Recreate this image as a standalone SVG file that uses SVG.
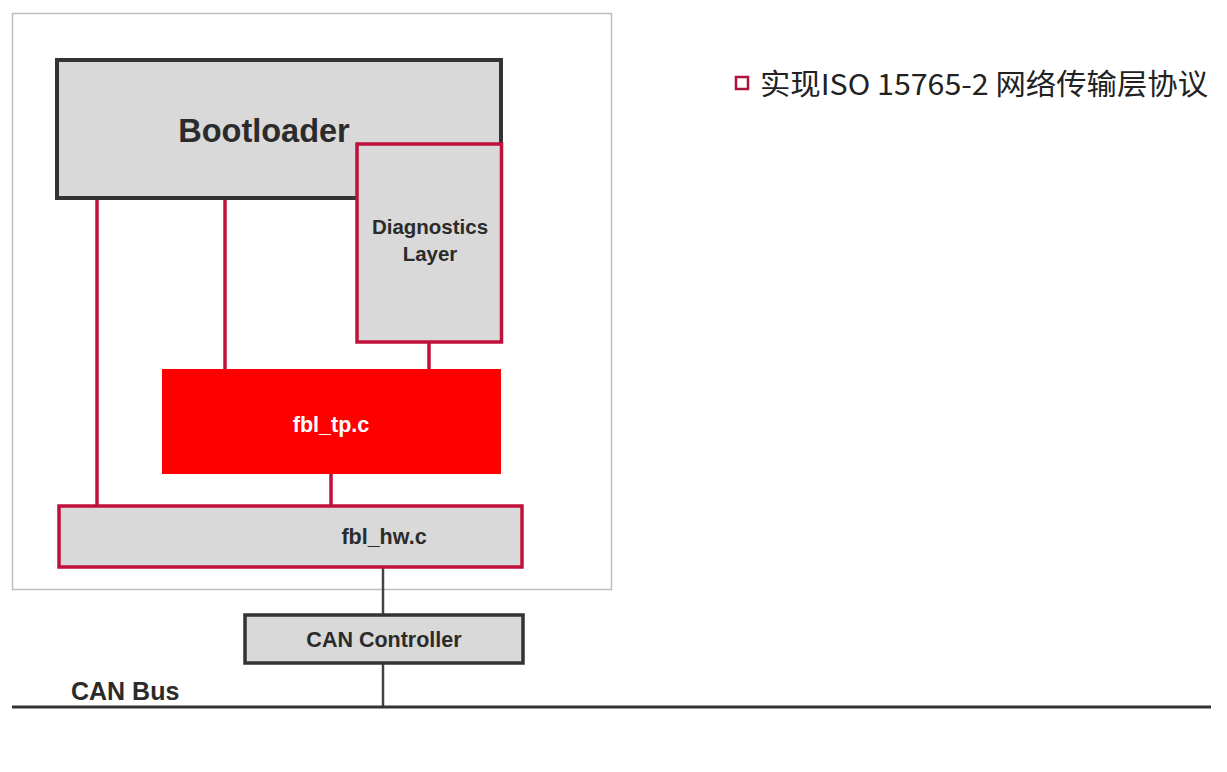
<svg xmlns="http://www.w3.org/2000/svg" width="1227" height="772" viewBox="0 0 1227 772">
<style>
.box{fill:#d9d9d9}
.dark{stroke:#333;stroke-width:4}
.crim{stroke:#c0103c;stroke-width:3.5}
.t{font-family:"Liberation Sans",Arial,sans-serif;font-weight:bold;fill:#2b2b2b;text-anchor:middle}
.cl{stroke:#c0103c;stroke-width:3.5;fill:none}
.gl{stroke:#444;stroke-width:2.5;fill:none}
</style>
<rect width="1227" height="772" fill="#fff"/>
<rect id="frame" x="12.5" y="13.5" width="599" height="576" fill="none" stroke="#bdbdbd" stroke-width="1.5"/>
<g id="connectors">
<line class="cl" x1="97" y1="198" x2="97" y2="506"/>
<line class="cl" x1="225" y1="198" x2="225" y2="369"/>
<line class="cl" x1="429" y1="342" x2="429" y2="369"/>
<line class="cl" x1="331" y1="474" x2="331" y2="506"/>
<line class="gl" x1="383" y1="568" x2="383" y2="614"/>
<line class="gl" x1="383" y1="663" x2="383" y2="707"/>
</g>
<g id="bootloader">
<rect class="box dark" x="57" y="60" width="444" height="138"/>
<text class="t" x="264" y="142" font-size="32.5">Bootloader</text>
</g>
<g id="diagnostics">
<rect class="box crim" x="357" y="144" width="144.5" height="198"/>
<text class="t" x="430" y="234" font-size="20.5">Diagnostics</text>
<text class="t" x="430" y="261" font-size="20.5">Layer</text>
</g>
<g id="fbl_tp">
<rect x="162" y="369" width="339" height="105" fill="#ff0000"/>
<text class="t" x="331" y="432" font-size="21.5" style="fill:#fff">fbl_tp.c</text>
</g>
<g id="fbl_hw">
<rect class="box crim" x="59" y="506" width="463" height="61"/>
<text class="t" x="384" y="544" font-size="21.5">fbl_hw.c</text>
</g>
<g id="can_controller">
<rect class="box" x="245" y="615" width="278" height="48" stroke="#333" stroke-width="3.5"/>
<text class="t" x="384" y="647" font-size="21.5">CAN Controller</text>
</g>
<g id="can_bus">
<line x1="12" y1="707" x2="1211" y2="707" stroke="#333" stroke-width="3"/>
<text class="t" x="71" y="700" font-size="25" style="text-anchor:start">CAN Bus</text>
</g>
<g id="note">
<rect x="736" y="77" width="12" height="12" fill="#fff" stroke="#b0103c" stroke-width="2.5"/>
<text x="760" y="95" font-size="29" fill="#222" font-family="'Noto Sans CJK SC','Noto Sans',sans-serif" textLength="448" lengthAdjust="spacingAndGlyphs">实现ISO 15765-2 网络传输层协议</text>
</g>
</svg>
